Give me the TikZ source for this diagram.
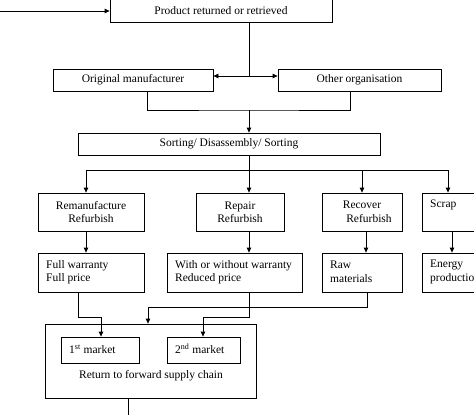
\documentclass[tikz,border=0pt]{standalone}
\usepackage{fontspec}
\setmainfont{Liberation Serif}
\usetikzlibrary{arrows.meta,positioning}
\begin{document}
\begin{tikzpicture}[x=1pt,y=-1pt,
  box/.style={draw, line width=0.8pt, inner sep=0pt, font=\fontsize{11.5}{13.5}\selectfont, align=center},
  lbox/.style={draw, line width=0.8pt, inner sep=0pt},
  txt/.style={inner sep=0pt, font=\fontsize{11.5}{13.5}\selectfont},
  arr/.style={line width=0.8pt, -{Triangle[length=5pt,width=4.5pt]}},
  ln/.style={line width=0.8pt}]
\useasboundingbox (0,0) rectangle (474,415);
\clip (0,0) rectangle (474,415);
\fill[white] (0,0) rectangle (474,415);
% boxes
\node[box, minimum width=222pt, minimum height=26pt] (top) at (221,9) {};
\node[txt] (toptxt) at (221,11) {Product returned or retrieved};
\node[box, minimum width=160pt, minimum height=22pt] (orig) at (133,80) {Original manufacturer};
\node[box, minimum width=163pt, minimum height=22pt] (other) at (359.5,80) {Other organisation};
\node[box, minimum width=302pt, minimum height=22pt] (sort) at (229,144) {Sorting/ Disassembly/ Sorting};
\node[box, minimum width=106pt, minimum height=38pt] (reman) at (91,212) {Remanufacture\\Refurbish};
\node[box, minimum width=88pt, minimum height=38pt] (repair) at (240,212) {Repair\\Refurbish};
\node[box, minimum width=80pt, minimum height=38pt] (recover) at (362,212) {Recover\\\hspace*{14pt}Refurbish};
\node[lbox, minimum width=68pt, minimum height=38pt] (scrap) at (456,212) {};
\node[txt, anchor=west] (scraptxt) at (430,205) {Scrap};
\node[lbox, minimum width=106pt, minimum height=39pt] (full) at (91,272.5) {};
\node[txt, anchor=west, align=left] (fulltxt) at (46,272) {Full warranty\\Full price};
\node[lbox, minimum width=135pt, minimum height=39pt] (with) at (234.5,272.5) {};
\node[txt, anchor=west, align=left] (withtxt) at (175,272) {With or without warranty\\Reduced price};
\node[lbox, minimum width=80pt, minimum height=39pt] (raw) at (362,272.5) {};
\node[txt, anchor=west, align=left] (rawtxt) at (330,272) {Raw\\materials};
\node[lbox, minimum width=68pt, minimum height=39pt] (energy) at (456,272.5) {};
\node[txt, anchor=west, align=left] (energytxt) at (430,272) {Energy\\production};
\node[lbox, minimum width=211pt, minimum height=74pt] (ret) at (150.5,361) {};
\node[txt] (rettxt) at (151,376) {Return to forward supply chain};
\node[lbox, minimum width=78pt, minimum height=26pt] (m1) at (100,350) {};
\node[txt, anchor=west] (m1txt) at (69,349) {1\textsuperscript{st} market};
\node[lbox, minimum width=73pt, minimum height=26pt] (m2) at (203.5,350) {};
\node[txt, anchor=west] (m2txt) at (175,349) {2\textsuperscript{nd} market};
% coordinates
\coordinate (spine) at (249,0);
\coordinate (left) at (0,11);
\coordinate (j1) at (249,76);
\coordinate (j2) at (249,110);
\coordinate (j3) at (249,170);
\coordinate (bottom) at (128,420);
\coordinate (a1) at (78,292);
\coordinate (a1t) at (101,317);
\coordinate (a2) at (249,292);
\coordinate (a2t) at (203,317);
\coordinate (a3) at (367,292);
\coordinate (a3t) at (148,307);
% connectors
\draw[arr] (left) -- (left -| top.west);
\draw[ln] (top.south -| spine) -- (j1);
\draw[arr] (j1) -- (j1 -| orig.east);
\draw[arr] (j1) -- (j1 -| other.west);
\draw[ln] ([xshift=14pt]orig.south) |- (j2) -| ([xshift=-9.5pt]other.south);
\draw[arr] (j2) -- (j2 |- sort.north);
\draw[ln] (sort.south -| spine) -- (j3);
\draw[ln] ([xshift=-5pt]reman.north |- j3) -- ([xshift=-8pt]scrap.north |- j3);
\draw[arr] ([xshift=-5pt]reman.north |- j3) -- ([xshift=-5pt]reman.north);
\draw[arr] (j3) -- (j3 |- repair.north);
\draw[arr] (recover.north |- j3) -- (recover.north);
\draw[arr] ([xshift=-8pt]scrap.north |- j3) -- ([xshift=-8pt]scrap.north);
\draw[arr] ([xshift=-5pt]reman.south) -- ([xshift=-5pt]full.north);
\draw[arr] (repair.south -| spine) -- (full.north -| spine);
\draw[arr] ([xshift=4pt]recover.south) -- ([xshift=4pt]raw.north);
\draw[arr] ([xshift=-4pt]scrap.south) -- ([xshift=-4pt]energy.north);
\draw[arr] (full.south -| a1) |- (a1t) -- (m1.north -| a1t);
\draw[arr] (with.south -| a2) |- (a2t) -- (m2.north -| a2t);
\draw[arr] (raw.south -| a3) |- (a3t) -- (ret.north -| a3t);
\draw[ln] (ret.south -| bottom) -- (bottom);
\end{tikzpicture}
\end{document}
